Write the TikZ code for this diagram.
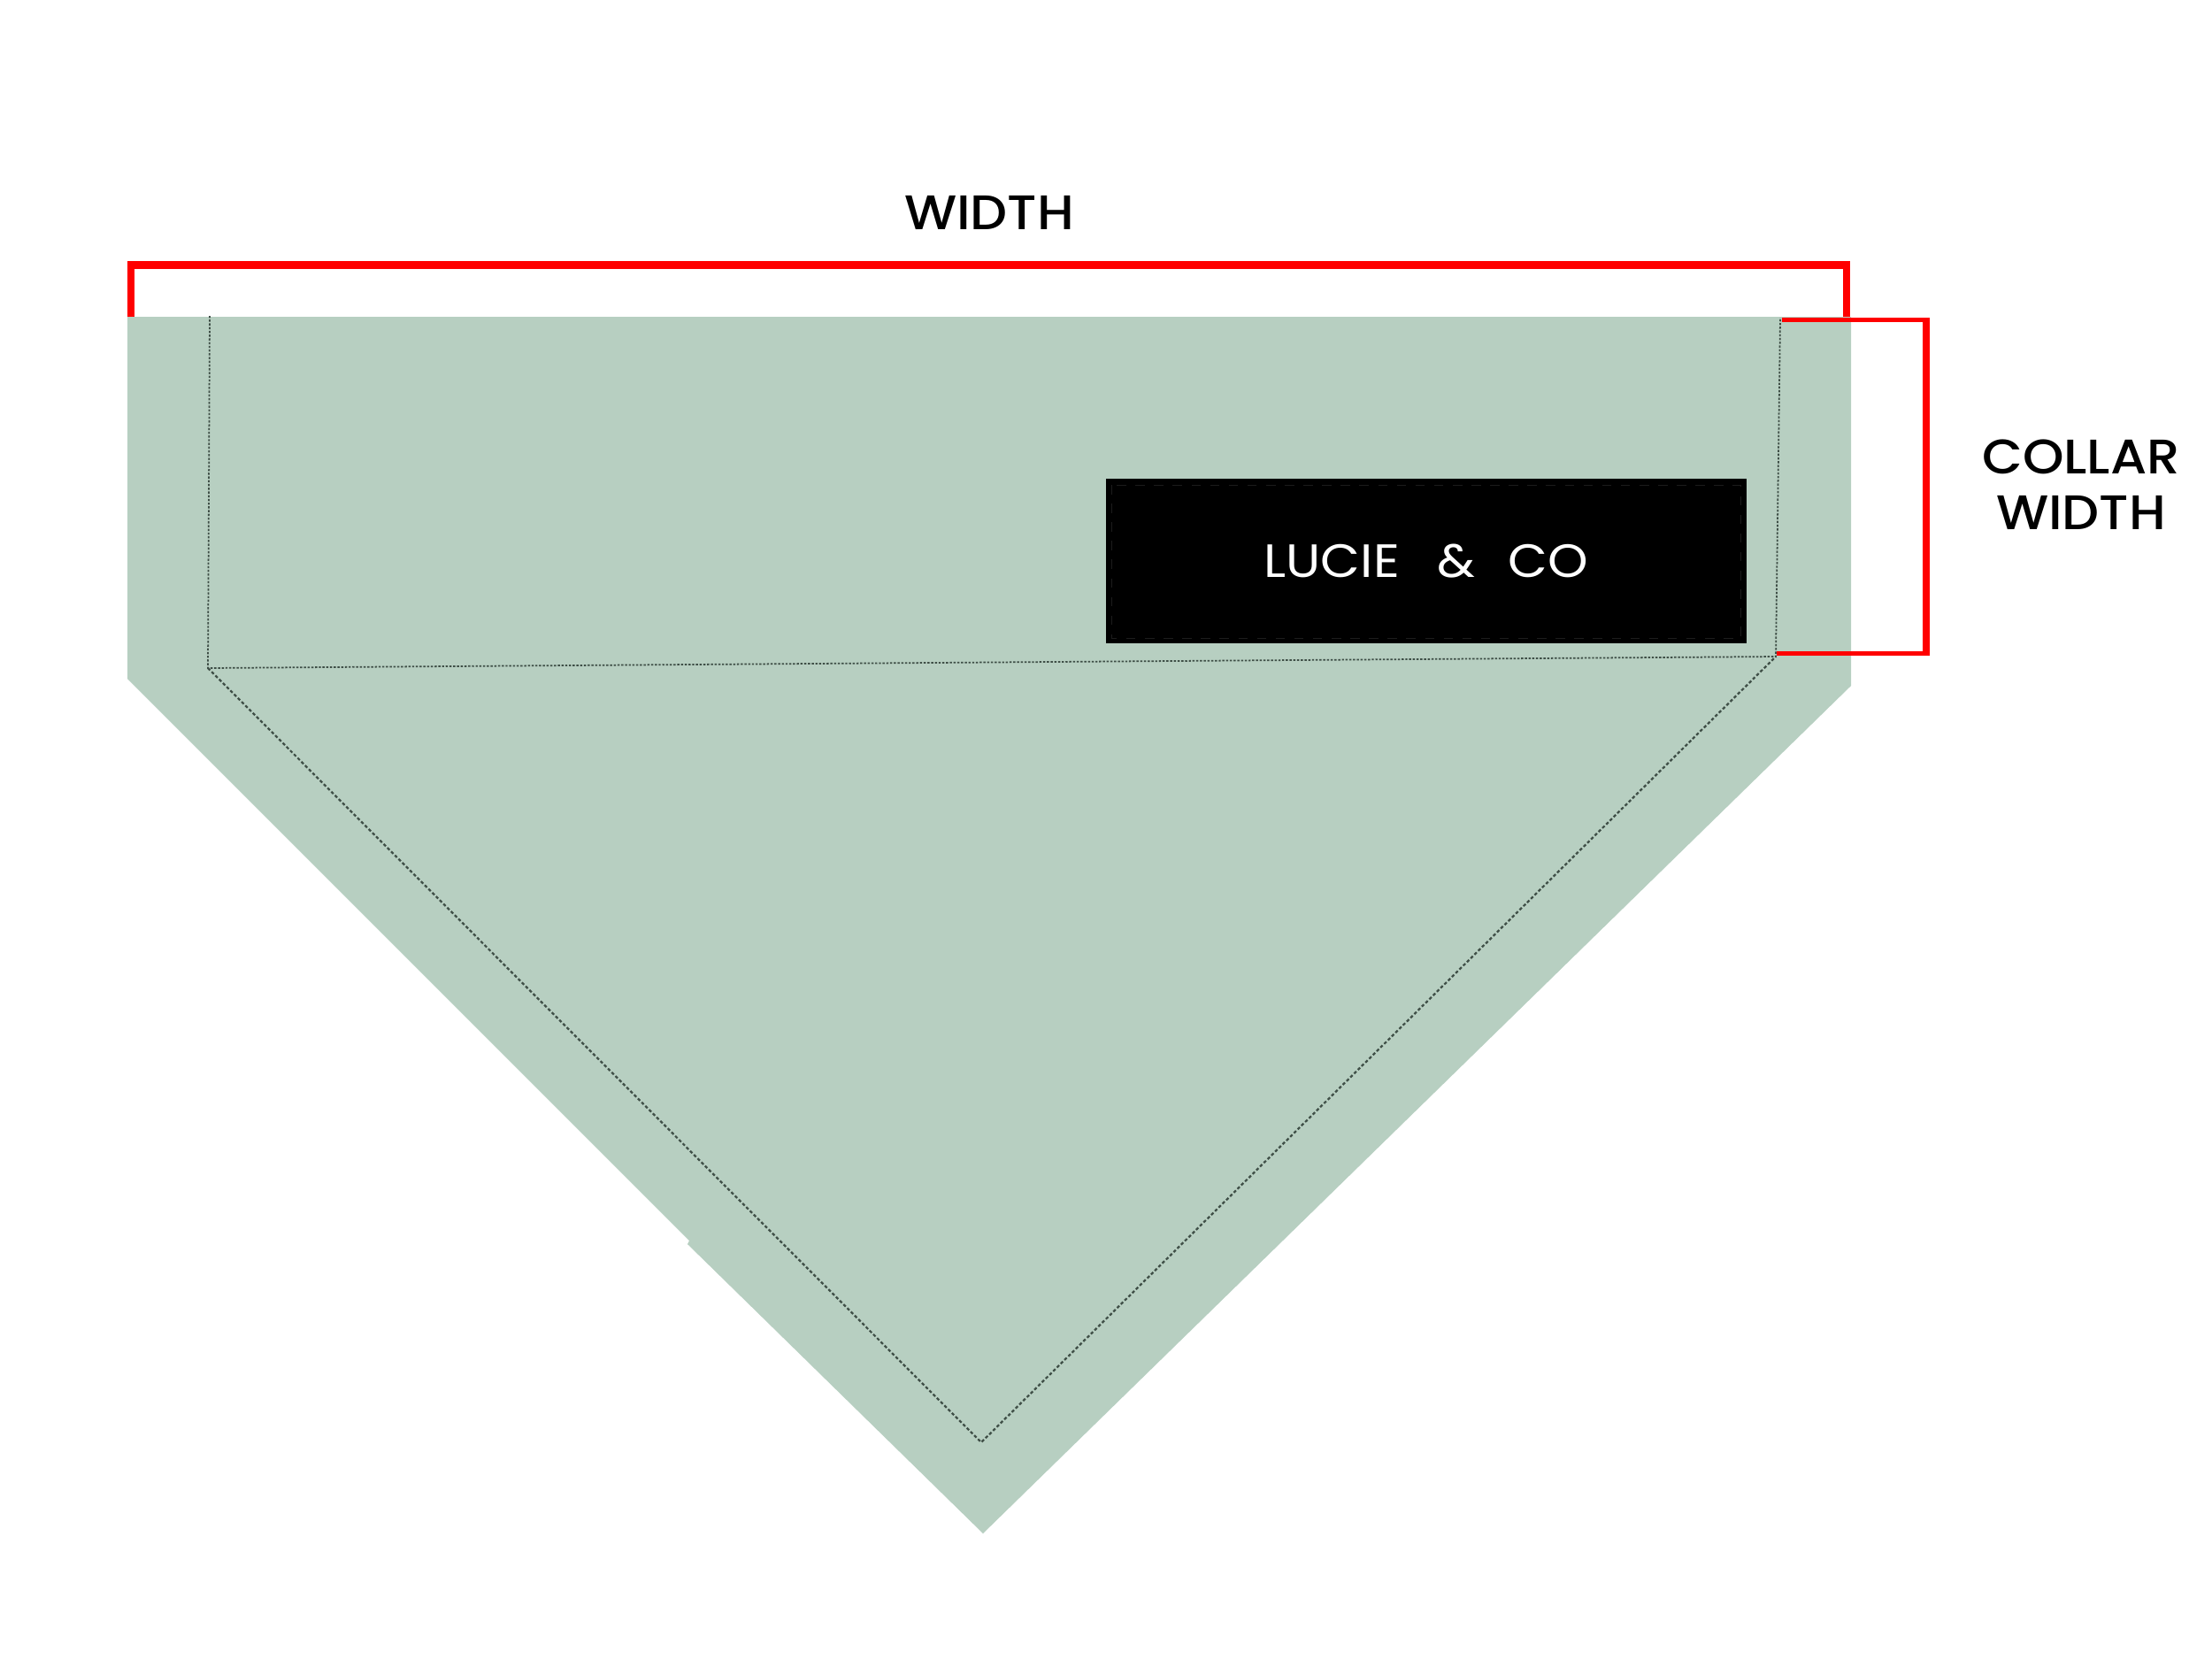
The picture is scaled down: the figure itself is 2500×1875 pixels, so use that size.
\documentclass[tikz,border=0pt]{standalone}
\usepackage{fontspec}
\setmainfont[FakeStretch=1.1]{Poppins}
\newfontfamily\labelfont[FakeStretch=1.08]{Poppins Medium}
\usepackage{xcolor}
\usetikzlibrary{positioning}
\definecolor{fabric}{HTML}{B7CFC1}
\definecolor{stitch}{HTML}{3F4F47}
\definecolor{edging}{HTML}{1C1C1C}

\begin{document}
\begin{tikzpicture}[
	x=0.01cm, y=-0.01cm,
	bracket/.style = {draw=red, line width=2.35pt, line cap=butt},
	thinbracket/.style = {draw=red, line width=1.6pt},
	stitchline/.style = {draw=stitch, line width=0.5pt, dash pattern=on 0.7pt off 0.5pt},
	sizelabel/.style = {align=center, font=\labelfont\fontsize{15.6}{18}\selectfont, inner sep=0pt}
]
\useasboundingbox (0,0) rectangle (2500,1875);

% bandana
\fill[fabric] (144,358) -- (2092,358) -- (2092,775) -- (1111,1733) -- (777,1406)
	-- (779,1402) -- (144,767) -- cycle;

% stitching
\coordinate (topleft) at (237,357);
\coordinate (foldleft) at (235,755);
\coordinate (foldright) at (2007,742);
\coordinate (topright) at (2012,359);
\coordinate (tip) at (1109,1630);
\draw[stitchline] (topleft) -- (foldleft) -- (foldright) -- (topright);
\draw[stitchline, line width=0.65pt, dash pattern=on 1pt off 0.7pt] (foldleft) -- (tip) -- (foldright);

% tag
\node[fill=black, minimum width=7.24cm, minimum height=1.86cm, inner sep=0pt,
	text=white, font=\fontsize{15}{18}\selectfont] (tag) at (1612,634)
	{LUCIE\hspace{0.8em}\&\hspace{0.72em}CO};
\draw[edging, line width=0.25pt, dashed] (1256,548) rectangle (1967,721);

% measures
\draw[bracket] (148,358) -- (148,299.5) -- (2087,299.5) -- (2087,358);
\draw[thinbracket] (2014,361.5) -- (2177,361.5);
\draw[thinbracket] (2008,738.5) -- (2177,738.5);
\draw[bracket] (2177,359) -- (2177,741);

\node[sizelabel] (width) at (1118,240) {WIDTH};
\node[sizelabel] (collar) at (2352,548) {COLLAR\\WIDTH};
\end{tikzpicture}
\end{document}
